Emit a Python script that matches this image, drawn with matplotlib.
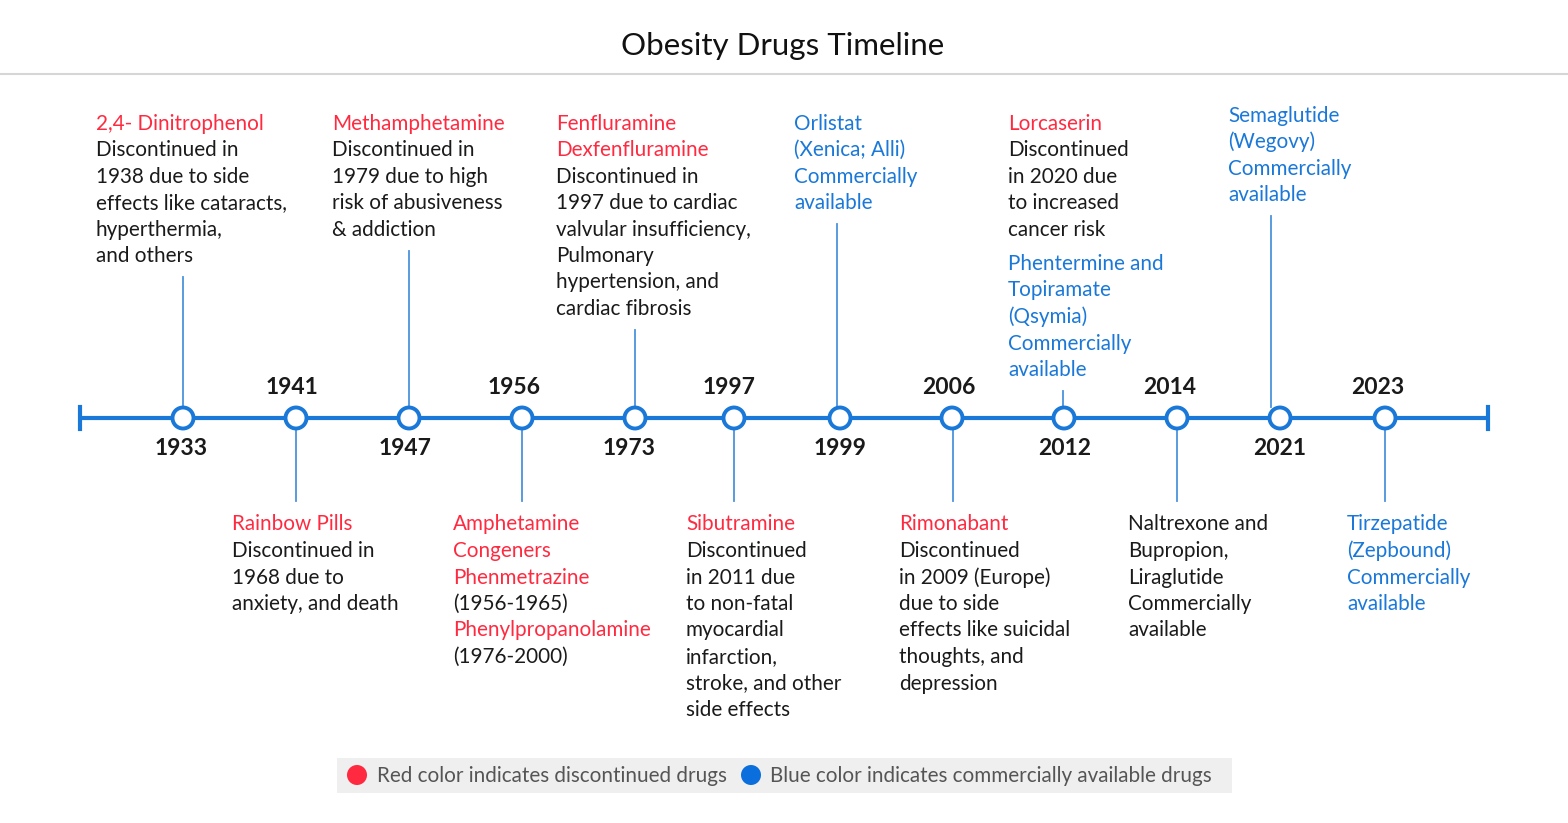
import matplotlib
matplotlib.use('Agg')
import matplotlib.pyplot as plt
from matplotlib.patches import Circle, Rectangle

plt.rcParams['font.family'] = ['Lato', 'DejaVu Sans']

# data: one entry per milestone, in timeline order
years = ['1933', '1941', '1947', '1956', '1973', '1997',
         '1999', '2006', '2012', '2014', '2021', '2023']

# kind of each line: 'd' discontinued drug, 'a' available drug, 'n' note, 'gap' spacer
notes = [
    [('d', '2,4- Dinitrophenol'), ('n', 'Discontinued in'), ('n', '1938 due to side'),
     ('n', 'effects like cataracts,'), ('n', 'hyperthermia,'), ('n', 'and others')],
    [('d', 'Rainbow Pills'), ('n', 'Discontinued in'), ('n', '1968 due to'),
     ('n', 'anxiety, and death')],
    [('d', 'Methamphetamine'), ('n', 'Discontinued in'), ('n', '1979 due to high'),
     ('n', 'risk of abusiveness'), ('n', '& addiction')],
    [('d', 'Amphetamine'), ('d', 'Congeners'), ('d', 'Phenmetrazine'), ('n', '(1956-1965)'),
     ('d', 'Phenylpropanolamine'), ('n', '(1976-2000)')],
    [('d', 'Fenfluramine'), ('d', 'Dexfenfluramine'), ('n', 'Discontinued in'),
     ('n', '1997 due to cardiac'), ('n', 'valvular insufficiency,'), ('n', 'Pulmonary'),
     ('n', 'hypertension, and'), ('n', 'cardiac fibrosis')],
    [('d', 'Sibutramine'), ('n', 'Discontinued'), ('n', 'in 2011 due'), ('n', 'to non-fatal'),
     ('n', 'myocardial'), ('n', 'infarction,'), ('n', 'stroke, and other'), ('n', 'side effects')],
    [('a', 'Orlistat'), ('a', '(Xenica; Alli)'), ('a', 'Commercially'), ('a', 'available')],
    [('d', 'Rimonabant'), ('n', 'Discontinued'), ('n', 'in 2009 (Europe)'), ('n', 'due to side'),
     ('n', 'effects like suicidal'), ('n', 'thoughts, and'), ('n', 'depression')],
    [('d', 'Lorcaserin'), ('n', 'Discontinued'), ('n', 'in 2020 due'), ('n', 'to increased'),
     ('n', 'cancer risk'), ('gap', ''), ('a', 'Phentermine and'), ('a', 'Topiramate'),
     ('a', '(Qsymia)'), ('a', 'Commercially'), ('a', 'available')],
    [('n', 'Naltrexone and'), ('n', 'Bupropion,'), ('n', 'Liraglutide'), ('n', 'Commercially'),
     ('n', 'available')],
    [('a', 'Semaglutide'), ('a', '(Wegovy)'), ('a', 'Commercially'), ('a', 'available')],
    [('a', 'Tirzepatide'), ('a', '(Zepbound)'), ('a', 'Commercially'), ('a', 'available')],
]

legend_labels = ['Red color indicates discontinued drugs',
                 'Blue color indicates commercially available drugs']

# layout (pixel coordinates)
dot_x = [183, 296, 409, 522, 635, 734, 840, 952, 1064, 1177, 1280, 1385]
label_x = [181, 292, 405, 514, 629, 729, 840, 949, 1065, 1170, 1280, 1378]
text_x = [96, 232, 332, 453, 556, 686, 794, 899, 1008, 1128, 1228, 1347]
stem_x = [183, 296, 409, 522, 635, 734, 837, 953, 1063, 1177, 1271, 1385]
first_line_top = [123.5, None, 123.5, None, 123.5, None, 123.5, None, 123.5, None, 115.5, None]
LINE_Y = 418
LINE_H = 26.5
RED = '#ff2a40'
BLUE = '#1a78d8'
DARK = '#1a1a1a'
colors = {'d': RED, 'a': BLUE, 'n': DARK}
FS = 14.9

W, H = 1568, 823
fig = plt.figure(figsize=(W / 100, H / 100), dpi=100)
ax = fig.add_axes([0, 0, 1, 1])
ax.set_xlim(0, W)
ax.set_ylim(H, 0)
ax.axis('off')

# title and divider
ax.text(783, 46, 'Obesity Drugs Timeline', fontsize=22.5, color='#111111',
        ha='center', va='center')
ax.plot([0, W], [73.5, 73.5], color='#d6d6d6', lw=1.5)

# main line with end caps
ax.plot([80, 1488], [LINE_Y, LINE_Y], color=BLUE, lw=3, solid_capstyle='butt', zorder=2)
for cx in (80, 1488):
    ax.plot([cx, cx], [LINE_Y - 11, LINE_Y + 11], color=BLUE, lw=3, zorder=2)

for i, yr in enumerate(years):
    up = i % 2 == 0
    # text block
    if up:
        y = first_line_top[i]
    else:
        y = 524.5
    last_y = y
    for kind, txt in notes[i]:
        if kind == 'gap':
            y += 8
            continue
        ax.text(text_x[i], y, txt, fontsize=FS, color=colors[kind], ha='left', va='center')
        last_y = y
        y += LINE_H
    # stem and year label
    if up:
        ax.plot([stem_x[i], stem_x[i]], [last_y + 21, LINE_Y - 11], color='#4a93dc', lw=1.3, zorder=1)
        ax.text(label_x[i], 448.5, yr, fontsize=16.5, fontweight='bold', color=DARK, ha='center', va='center')
    else:
        ax.plot([stem_x[i], stem_x[i]], [LINE_Y + 11, 501], color='#4a93dc', lw=1.3, zorder=1)
        ax.text(label_x[i], 387.5, yr, fontsize=16.5, fontweight='bold', color=DARK, ha='center', va='center')
    ax.add_patch(Circle((dot_x[i], LINE_Y), 10.5, facecolor='white', edgecolor=BLUE, lw=2.8, zorder=3))

# legend box
ax.add_patch(Rectangle((337, 758), 895, 35, facecolor='#efefef', edgecolor='none', zorder=0))
ax.add_patch(Circle((357, 775), 10, facecolor=RED, edgecolor='none'))
ax.text(377, 776, legend_labels[0], fontsize=FS, color='#555555', ha='left', va='center')
ax.add_patch(Circle((751, 775), 10, facecolor='#0a6fdc', edgecolor='none'))
ax.text(770, 776, legend_labels[1], fontsize=FS, color='#555555', ha='left', va='center')

plt.savefig('out.png', dpi=100)
